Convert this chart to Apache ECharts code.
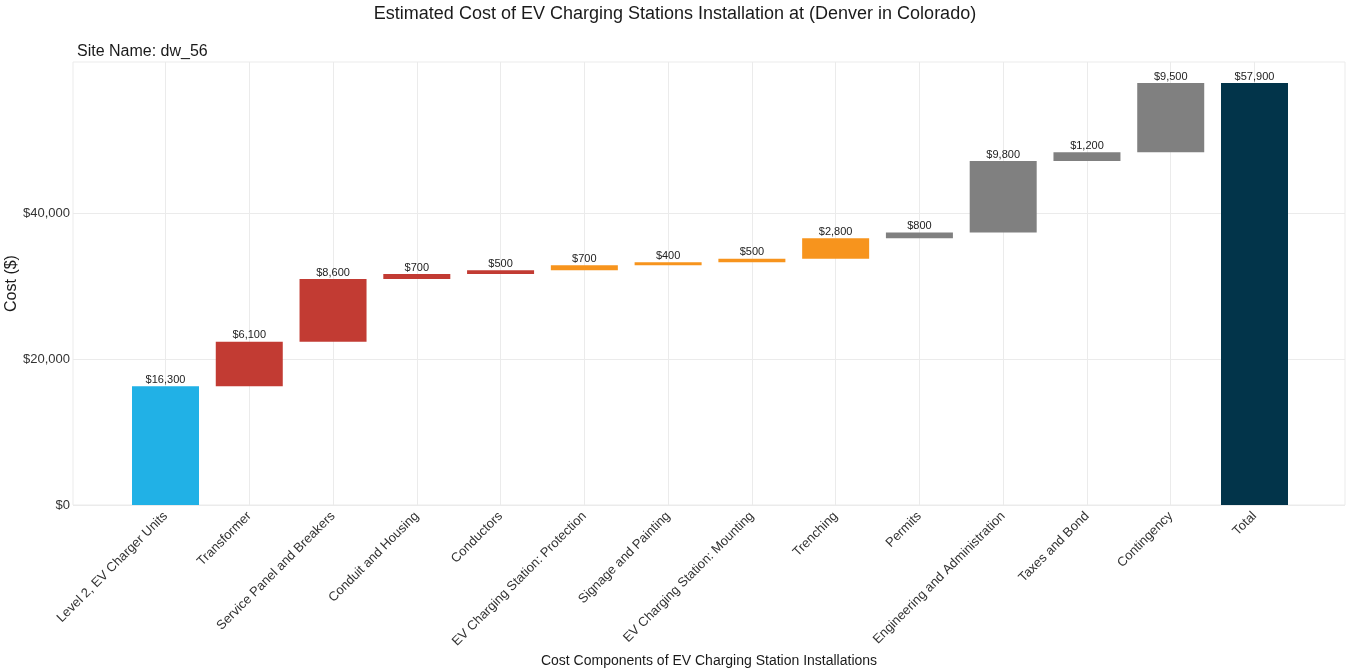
<!DOCTYPE html>
<html>
<head>
<meta charset="utf-8">
<script src="https://cdn.jsdelivr.net/npm/echarts@6/dist/echarts.min.js"></script>
<style>
html,body{margin:0;padding:0;background:#fff;}
#chart{width:1350px;height:672px;}
</style>
</head>
<body>
<div id="chart"></div>
<script>
const categories = ["Level 2, EV Charger Units","Transformer","Service Panel and Breakers","Conduit and Housing","Conductors","EV Charging Station: Protection","Signage and Painting","EV Charging Station: Mounting","Trenching","Permits","Engineering and Administration","Taxes and Bond","Contingency","Total"];
const costs = [16300, 6100, 8600, 700, 500, 700, 400, 500, 2800, 800, 9800, 1200, 9500];
const groups = ["base","hw","hw","hw","hw","inst","inst","inst","inst","soft","soft","soft","soft"];
const yTicks = [0, 20000, 40000];
const groupColors = {base:"#21b1e6", hw:"#c23b33", inst:"#f7941d", soft:"#808080", total:"#02344a"};

const total = costs.reduce((a,b)=>a+b,0);
const bases = [], heights = [], colors = [], labels = [];
let run = 0;
costs.forEach((v,i)=>{ bases.push(run); heights.push(v); colors.push(groupColors[groups[i]]); labels.push(v); run += v; });
bases.push(0); heights.push(total); colors.push(groupColors.total); labels.push(total);
const yMax = total * 1.05;
const fmt = v => '$' + v.toLocaleString('en-US');
const font = 'Liberation Sans, Arial, sans-serif';

const chart = echarts.init(document.getElementById('chart'));
chart.setOption({
  animation: false,
  textStyle: {fontFamily: font},
  title: [
    {text: 'Estimated Cost of EV Charging Stations Installation at (Denver in Colorado)', left: 'center', top: 0,
     textStyle: {fontSize: 18, fontWeight: 'normal', color: '#1a1a1a', fontFamily: font}},
    {text: 'Site Name: dw_56', left: 72, top: 39, textStyle: {fontSize: 16, fontWeight: 'normal', color: '#1a1a1a', fontFamily: font}}
  ],
  grid: [
    {left: 165.5, right: 95.5, top: 62, bottom: 167, show: false, outerBoundsMode: 'none', containLabel: false},
    {left: 73, right: 5, top: 62, bottom: 167, show: true, borderColor: '#ebebeb', borderWidth: 1,
     backgroundColor: 'transparent', outerBoundsMode: 'none', containLabel: false}
  ],
  xAxis: [
    {type: 'category', gridIndex: 0, data: categories, boundaryGap: false,
     axisLine: {show: false}, axisTick: {show: false},
     splitLine: {show: true, lineStyle: {color: '#ebebeb', width: 1}},
     axisLabel: {rotate: 45, fontSize: 13, color: '#333', margin: 9, interval: 0, fontFamily: font}},
    {type: 'value', gridIndex: 1, min: 0, max: 1, show: true,
     axisLine: {show: false}, axisTick: {show: false}, axisLabel: {show: false}, splitLine: {show: false},
     name: 'Cost Components of EV Charging Station Installations', nameLocation: 'middle', nameGap: 149,
     nameMoveOverlap: false,
     nameTextStyle: {fontSize: 14, color: '#1a1a1a', fontFamily: font}}
  ],
  yAxis: [
    {type: 'value', gridIndex: 0, min: 0, max: yMax, show: false, splitLine: {show: false}},
    {type: 'value', gridIndex: 1, min: 0, max: yMax,
     axisLine: {show: false},
     splitLine: {show: true, lineStyle: {color: '#ebebeb', width: 1}},
     axisLabel: {color: '#333', fontSize: 13, margin: 3, fontFamily: font,
       customValues: yTicks, formatter: v => fmt(v)},
     axisTick: {show: false, customValues: yTicks},
     name: 'Cost ($)', nameLocation: 'middle', nameGap: 53, nameRotate: 90, nameMoveOverlap: false,
     nameTextStyle: {fontSize: 16, color: '#1a1a1a', fontFamily: font}}
  ],
  series: [
    {type: 'bar', xAxisIndex: 0, yAxisIndex: 0, stack: 'w', data: bases, barWidth: 67, clip: false,
     itemStyle: {color: 'transparent'}, silent: true},
    {type: 'bar', xAxisIndex: 0, yAxisIndex: 0, stack: 'w', barWidth: 67, clip: false,
     data: heights.map((h,i)=>({value: h, itemStyle: {color: colors[i]}})),
     label: {show: true, position: 'top', distance: 1, fontSize: 11, color: '#222', fontFamily: font,
       formatter: p => fmt(labels[p.dataIndex])}}
  ]
});
</script>
</body>
</html>
